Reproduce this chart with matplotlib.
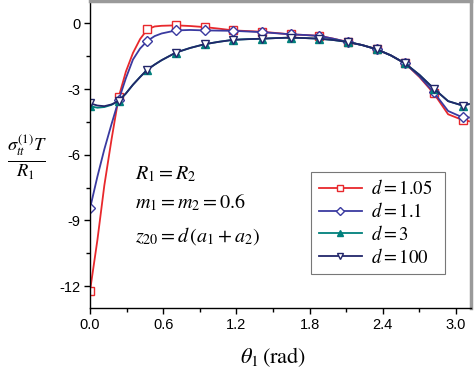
import matplotlib
matplotlib.use('Agg')
import matplotlib.pyplot as plt
from matplotlib.ticker import MultipleLocator

plt.rcParams['font.family'] = ['Liberation Sans', 'DejaVu Sans']
plt.rcParams['mathtext.fontset'] = 'stix'

# theta values (rad); extra points near 0 where the curves bend sharply
theta = [0.0, 0.06, 0.117, 0.176, 0.235, 0.294, 0.352, 0.41, 0.47, 0.53,
         0.587, 0.705, 0.822, 0.94, 1.057,
         1.175, 1.292, 1.41, 1.527, 1.645, 1.762, 1.88, 1.997, 2.115, 2.232,
         2.35, 2.467, 2.585, 2.702, 2.82, 2.937, 3.055, 3.13]
# indices of the points that carry a marker
marked = [0, 4, 8, 11, 13, 15, 17, 19, 21, 23, 25, 27, 29, 31]

d105 = [-12.2, -9.9, -7.4, -5.3, -3.36, -2.2, -1.35, -0.72, -0.27, -0.14,
        -0.11, -0.09, -0.12, -0.17, -0.24,
        -0.32, -0.35, -0.38, -0.44, -0.50, -0.53, -0.57, -0.70, -0.85, -0.99,
        -1.18, -1.46, -1.83, -2.45, -3.2, -4.15, -4.41, -4.49]
d11 = [-8.44, -7.0, -5.75, -4.6, -3.5, -2.5, -1.65, -1.15, -0.80, -0.58,
       -0.46, -0.32, -0.30, -0.32, -0.33,
       -0.34, -0.37, -0.40, -0.45, -0.50, -0.53, -0.57, -0.70, -0.85, -0.99,
       -1.18, -1.46, -1.83, -2.42, -3.15, -4.0, -4.29, -4.30]
d3 = [-3.78, -3.85, -3.82, -3.72, -3.54, -3.2, -2.8, -2.45, -2.11, -1.88,
      -1.68, -1.33, -1.12, -0.95, -0.84,
      -0.75, -0.72, -0.70, -0.67, -0.65, -0.67, -0.70, -0.76, -0.85, -0.99,
      -1.18, -1.46, -1.83, -2.35, -2.98, -3.55, -3.75, -3.66]
d100 = [-3.65, -3.75, -3.78, -3.7, -3.54, -3.2, -2.8, -2.45, -2.11, -1.88,
        -1.68, -1.33, -1.12, -0.95, -0.84,
        -0.75, -0.72, -0.70, -0.67, -0.65, -0.67, -0.70, -0.76, -0.85, -0.99,
        -1.18, -1.46, -1.83, -2.35, -2.98, -3.55, -3.75, -3.66]

labels = ['$d = 1.05$', '$d = 1.1$', '$d = 3$', '$d = 100$']
colors = ['#e8282c', '#3a3aa0', '#00807c', '#22266a']
mk = ['s', 'D', '^', 'v']
faces = ['white', 'white', '#00807c', 'white']

fig = plt.figure(figsize=(4.74, 3.73), dpi=100)
ax = fig.add_axes([0.19, 0.174, 0.804, 0.822])

series = [d105, d11, d3, d100]
for i in range(len(series)):
    ax.plot(theta, series[i], color=colors[i], lw=1.3, marker=mk[i],
            markevery=marked, ms=6 if mk[i] != 'D' else 5.5,
            mfc=faces[i], mec=colors[i], mew=1.0, label=labels[i])

ax.set_xlim(0, 3.126)
ax.set_ylim(-13, 1)
ax.xaxis.set_major_locator(MultipleLocator(0.6))
ax.xaxis.set_minor_locator(MultipleLocator(0.3))
ax.yaxis.set_major_locator(MultipleLocator(3))
ax.yaxis.set_minor_locator(MultipleLocator(1.5))
ax.xaxis.set_major_formatter(plt.FormatStrFormatter('%.1f'))
ax.yaxis.set_major_formatter(plt.FormatStrFormatter('%d'))
ax.tick_params(which='major', direction='out', length=4, width=1, labelsize=10.5, pad=3)
ax.tick_params(which='minor', direction='out', length=3, width=1)

for s in ['top', 'right']:
    ax.spines[s].set_color('#9a9a9a')
    ax.spines[s].set_linewidth(2.5)
for s in ['left', 'bottom']:
    ax.spines[s].set_color('black')
    ax.spines[s].set_linewidth(1.0)

leg = ax.legend(loc='lower left', bbox_to_anchor=(0.58, 0.111, 0.352, 0.339),
                mode='expand', fontsize=13.5, frameon=True, fancybox=False,
                borderaxespad=0, handlelength=2.3, handletextpad=0.5,
                labelspacing=0.2, borderpad=0.4, markerscale=0.8)
leg.get_frame().set_edgecolor('#555555')
leg.get_frame().set_linewidth(0.8)

ax.text(0.118, 0.438, r'$R_1 = R_2$', transform=ax.transAxes, fontsize=14.5, va='center')
ax.text(0.118, 0.343, r'$m_1 = m_2 = 0.6$', transform=ax.transAxes, fontsize=14.5, va='center')
ax.text(0.118, 0.236, r'$z_{20} = d\,\left(a_1 + a_2\right)$', transform=ax.transAxes,
        fontsize=14.5, va='center')

fig.text(0.058, 0.576, r'$\frac{\sigma_{tt}^{(1)}T}{R_1}$', fontsize=19, ha='center', va='center')
fig.text(0.577, 0.043, r'$\theta_1\,\left(\mathrm{rad}\right)$', fontsize=16, ha='center', va='center')

fig.savefig('out.png', dpi=100)
